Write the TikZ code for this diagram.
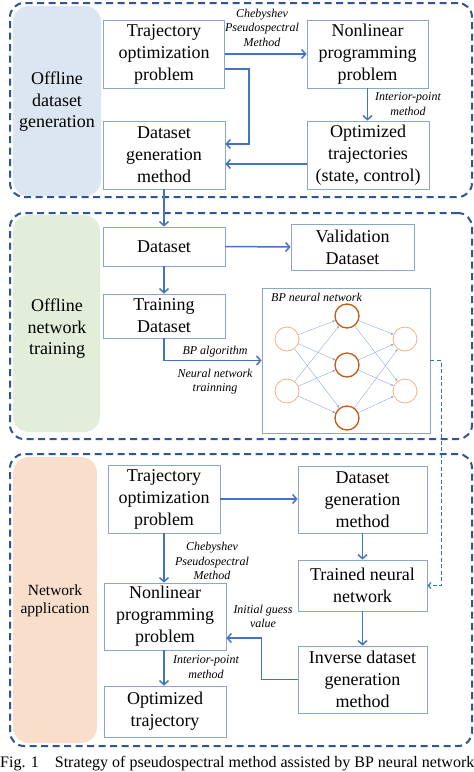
\documentclass[tikz,border=0pt]{standalone}
\usepackage{fontspec}
\setmainfont{Liberation Serif}
\usetikzlibrary{arrows.meta,positioning,calc}
\definecolor{boxc}{RGB}{140,165,200}
\definecolor{arrc}{RGB}{68,114,196}
\definecolor{secc}{RGB}{47,85,151}
\definecolor{panblue}{RGB}{220,230,242}
\definecolor{pangreen}{RGB}{226,238,217}
\definecolor{panpeach}{RGB}{249,222,204}
\definecolor{neurlight}{RGB}{244,177,131}
\definecolor{neurdark}{RGB}{197,90,17}
\definecolor{linkc}{RGB}{143,170,220}
\definecolor{dconnc}{RGB}{46,117,182}
\tikzset{
    blk/.style 2 args={
        draw=boxc, line width=0.8pt, fill=white, align=center,
        inner sep=0pt, minimum width=#1, minimum height=#2,
        font=\fontsize{18}{22}\selectfont
    },
    sect/.style 2 args={
        draw=secc, line width=2pt, dash pattern=on 7pt off 4.5pt,
        rounded corners=14pt, minimum width=#1, minimum height=#2
    },
    panel/.style 2 args={
        rounded corners=16pt, minimum width=#1, minimum height=#2
    },
    arr/.style={
        draw=arrc, line width=1.5pt,
        -{Straight Barb[length=4pt,width=9pt,line width=1.5pt]}
    },
    dconn/.style={
        draw=dconnc, line width=1pt, dash pattern=on 4pt off 2.5pt,
        -{Straight Barb[length=3pt,width=6pt,line width=1pt]}
    },
    lbl/.style={
        align=center, inner sep=0pt,
        font=\fontsize{12}{14.5}\selectfont\itshape
    },
    seclbl/.style={
        align=center, inner sep=0pt,
        font=\fontsize{18}{21.5}\selectfont
    },
    neuron/.style={
        circle, draw=neurlight, line width=0.8pt, fill=white,
        minimum size=24pt, inner sep=0pt
    },
    hneuron/.style={
        neuron, draw=neurdark, line width=1.3pt
    },
    link/.style={
        draw=linkc, line width=0.4pt,
        -{Latex[length=2.5pt,width=2.5pt]}
    }
}

\begin{document}
\begin{tikzpicture}[x=1pt,y=-1pt]
    \useasboundingbox (0,0) rectangle (474,772);
    % sections
    \node[panel={88}{190}, fill=panblue] (pan1) at (57,101) {};
    \node[panel={87}{217}, fill=pangreen] (pan2) at (56.5,323.5) {};
    \node[panel={84}{286}, fill=panpeach] (pan3) at (55,600) {};
    \node[sect={462}{194}] (sec1) at (241,100) {};
    \node[sect={462}{226}] (sec2) at (241,326) {};
    \node[sect={462}{292}] (sec3) at (241,600) {};
    \node[seclbl] (lab1) at (57,102) {Offline\\dataset\\generation};
    \node[seclbl] (lab2) at (57,329) {Offline\\network\\training};
    \node[seclbl, font=\fontsize{15.5}{18.5}\selectfont] (lab3) at (55,601) {Network\\application};

    % offline dataset generation
    \node[blk={121}{68}] (t1) at (164,54) {Trajectory\\optimization\\problem};
    \node[blk={121}{68}] (n1) at (367.5,54) {Nonlinear\\programming\\problem};
    \node[blk={122}{68}] (d1) at (164,155) {Dataset\\generation\\method};
    \node[blk={122}{68}] (o1) at (368,155) {Optimized\\trajectories\\(state, control)};
    \draw[arr] (t1.east) -- (n1.west);
    \node[lbl] (l1) at (262,27.5) {Chebyshev\\Pseudospectral\\Method};
    \draw[arr] ([yshift=-15pt]t1.east) -- ++(24,0) |- ([yshift=11pt]d1.east);
    \draw[arr] (n1.south) -- (n1.south |- o1.north);
    \node[lbl] (l2) at (408,104) {Interior-point\\method};
    \draw[arr] ([yshift=-9pt]o1.west) -- ([yshift=-9pt]d1.east);

    % offline network training
    \node[blk={122}{39}] (ds) at (164,246.5) {Dataset};
    \node[blk={123}{46}] (vd) at (352.5,247) {Validation\\Dataset};
    \node[blk={122}{44}] (td) at (164,316) {Training\\Dataset};
    \node[draw=boxc, line width=0.8pt, minimum width=168, minimum height=145] (nn) at (346,360.5) {};
    \node[lbl, anchor=west] (nnt) at (271,297) {BP neural network};
    \draw[arr] (d1.south) -- (ds.north);
    \draw[arr] (ds.east) -- (vd.west);
    \draw[arr] (ds.south) -- (td.north);
    \draw[arr] (td.south) |- (nn.west);
    \node[lbl] (l3) at (215,352) {BP algorithm};
    \node[lbl] (l4) at (215,381.5) {Neural network\\trainning};
    \foreach \n/\y in {1/339,2/391}{
        \node[neuron] (i\n) at (287,\y) {};
        \node[neuron] (o\n) at (405,\y) {};
    }
    \foreach \n/\y in {1/316,2/365,3/418}
        \node[hneuron] (h\n) at (347,\y) {};
    \foreach \a in {1,2}
        \foreach \b in {1,2,3}{
            \draw[link] (i\a) -- (h\b);
            \draw[link] (h\b) -- (o\a);
        }

    % network application
    \node[blk={112}{68}] (t3) at (164,499) {Trajectory\\optimization\\problem};
    \node[blk={129}{67}] (g3) at (362.5,499.5) {Dataset\\generation\\method};
    \node[blk={129}{51}] (tn) at (362.5,585.5) {Trained neural\\network};
    \node[blk={129}{67}] (iv) at (362.5,679.5) {Inverse dataset\\generation\\method};
    \node[blk={122}{67}] (nl3) at (165,616.5) {Nonlinear\\programming\\problem};
    \node[blk={122}{51}] (ot3) at (165,711.5) {Optimized\\trajectory};
    \draw[arr] (t3.east) -- (t3.east -| g3.west);
    \draw[arr] (g3.south) -- (tn.north);
    \draw[arr] (tn.south) -- (iv.north);
    \draw[arr] (t3.south) -- (t3.south |- nl3.north);
    \node[lbl] (l5) at (212,561) {Chebyshev\\Pseudospectral\\Method};
    \draw[arr] (iv.west) -- ++(-36,0) |- ([yshift=-21.5pt]nl3.east);
    \node[lbl] (l6) at (263,616.5) {Initial guess\\value};
    \draw[arr] (t3.south |- nl3.south) -- (t3.south |- ot3.north);
    \node[lbl] (l7) at (206,667) {Interior-point\\method};
    \draw[dconn] (nn.east) -- ++(11,0) |- (tn.east);

    % caption
    \node[anchor=base west, inner sep=0pt, font=\fontsize{16}{18}\selectfont] (cap) at (0,767.5)
        {Fig. 1\hspace{16pt}Strategy of pseudospectral method assisted by BP neural network};
\end{tikzpicture}
\end{document}
